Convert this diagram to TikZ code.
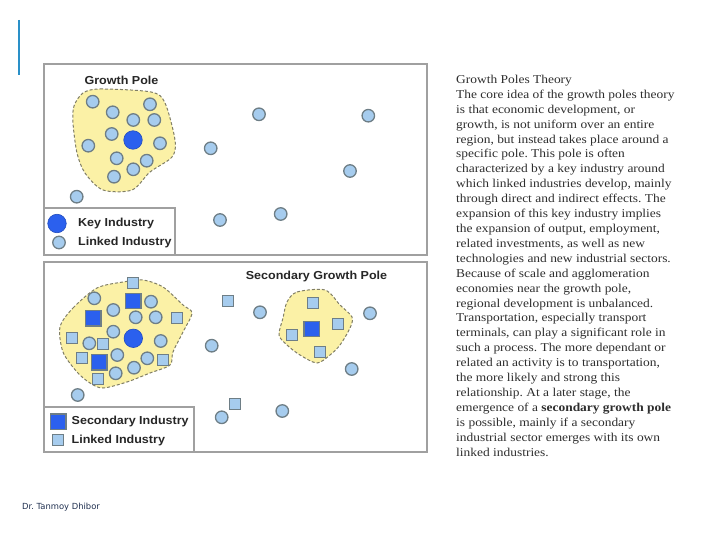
\documentclass[tikz,border=0pt]{standalone}
\usepackage{fontspec}
\setmainfont{Liberation Serif}
\newfontfamily\bodyfont[FakeStretch=1.12]{Liberation Serif}
\newfontfamily\labfont[FakeStretch=1.08]{Liberation Sans}
\newfontfamily\footfont{DejaVu Sans}
\frenchspacing
\definecolor{poleyellow}{HTML}{FBF1A6}
\definecolor{poledash}{HTML}{807E66}
\definecolor{lightblu}{HTML}{A6CCEE}
\definecolor{ringgray}{HTML}{6E7E86}
\definecolor{keyblue}{HTML}{2B60EE}
\definecolor{framegray}{HTML}{A0A0A0}
\definecolor{txtgray}{HTML}{2E2E2E}
\definecolor{accent}{HTML}{2A90C8}
\definecolor{footblue}{HTML}{1F2F4F}
\tikzset{
  link/.style={circle,minimum size=12.5pt,inner sep=0pt,fill=lightblu,draw=ringgray,line width=1.3pt},
  keyind/.style={circle,minimum size=18.5pt,inner sep=0pt,fill=keyblue,draw=keyblue!80!black,line width=0.6pt},
  sqlink/.style={rectangle,minimum size=11pt,inner sep=0pt,fill=lightblu,draw=ringgray,line width=1.2pt},
  sqkey/.style={rectangle,minimum size=15.5pt,inner sep=0pt,fill=keyblue,draw=ringgray,line width=1.2pt},
  pole/.style={fill=poleyellow,draw=poledash,dashed,line width=1pt,dash pattern=on 3pt off 2pt},
  panel/.style={draw=framegray,line width=1.5pt},
  lab/.style={font=\labfont\bfseries\fontsize{11.6}{13}\selectfont,text=black!85,inner sep=0pt},
  bodytxt/.style={font=\bodyfont\fontsize{12}{14}\selectfont,text=txtgray,inner sep=0pt,anchor=base west}
}
\begin{document}
\begin{tikzpicture}[x=1pt,y=-1pt]
\useasboundingbox (0,0) rectangle (720,540);
% accent line
\draw[accent,line width=1.5pt] (19,20) -- (19,75);
% ===== top panel =====
\draw[panel] (44,64) rectangle (427,255);
\draw[pole] plot[smooth cycle,tension=0.5] coordinates {(83,93) (100,89) (151,92) (165,103) (175,140) (172,157) (150,172) (132,190) (103,190) (85,173) (77,153) (73,123) (74,106)};
\node[lab] (gp) at (121.5,80) {Growth Pole};
\node[keyind] (k1) at (133,140) {};
\foreach \px/\py [count=\i] in {92.7/101.7,150/104.3,112.7/112.3,133.3/120,154.3/120,111.7/134,88.3/145.7,160/143.3,116.7/158.3,146.7/160.7,133.3/169.3,114/176.7,259/114.3,368.3/115.7,210.7/148.3,350/171,76.7/196.7,220/220,280.7/214}
  \node[link] (a\i) at (\px,\py) {};
% legend top
\draw[panel] (44,208) rectangle (175,255);
\node[keyind] (lk) at (57,223.5) {};
\node[link] (ll) at (59,242.5) {};
\node[lab,anchor=west] (lkt) at (78,223.5) {Key Industry};
\node[lab,anchor=west] (llt) at (78,242.5) {Linked Industry};
% ===== bottom panel =====
\draw[panel] (44,262) rectangle (427,452);
\draw[pole] plot[smooth cycle,tension=0.5] coordinates {(60,327) (73,308) (97,288) (123,282) (143,280) (163,287) (183,305) (192,313) (183,332) (173,352) (170,365) (150,373) (127,382) (103,388) (90,383) (77,372) (63,352)};
\draw[pole] plot[smooth cycle,tension=0.5] coordinates {(287,302) (297,292) (325,290) (340,305) (352,317) (350,328) (340,345) (330,355) (317,363) (300,355) (287,345) (279,335) (283,318)};
\node[lab] (sgp) at (316.5,276.5) {Secondary Growth Pole};
\node[keyind] (k2) at (133.3,338.3) {};
\foreach \px/\py [count=\i] in {133.3/301,93.3/318.3,99.3/362.3,311.7/329}
  \node[sqkey] (s\i) at (\px,\py) {};
\foreach \px/\py [count=\i] in {133.3/283.3,176.7/318.3,71.7/338.3,103.3/344.3,81.7/357.7,163.3/360,98.3/379,228.3/301,313.3/303.3,338.3/324.3,292.3/335,320/351.7,235/404}
  \node[sqlink] (q\i) at (\px,\py) {};
\foreach \px/\py [count=\i] in {94.3/298.3,151/301.7,113.3/310,135.7/317.3,155.7/317.3,113.3/331.7,89.3/343.3,160.7/341,117.3/355,147.3/358.3,134/367.7,115.7/373.3,77.7/395,260/312.3,211.7/345.7,370/313.3,351.7/369,221.7/417.3,282.3/411}
  \node[link] (b\i) at (\px,\py) {};
% legend bottom
\draw[panel] (44,407) rectangle (194,452);
\node[sqkey] (ls) at (58.3,421.7) {};
\node[sqlink] (lq) at (58.3,440) {};
\node[lab,anchor=west] (lst) at (71.5,421.7) {Secondary Industry};
\node[lab,anchor=west] (lqt) at (71.5,440) {Linked Industry};
% ===== right text =====
\foreach \ln [count=\i] in {
{Growth Poles Theory},
{The core idea of the growth poles theory},
{is that economic development, or},
{growth, is not uniform over an entire},
{region, but instead takes place around a},
{specific pole. This pole is often},
{characterized by a key industry around},
{which linked industries develop, mainly},
{through direct and indirect effects. The},
{expansion of this key industry implies},
{the expansion of output, employment,},
{related investments, as well as new},
{technologies and new industrial sectors.},
{Because of scale and agglomeration},
{economies near the growth pole,},
{regional development is unbalanced.},
{Transportation, especially transport},
{terminals, can play a significant role in},
{such a process. The more dependant or},
{related an activity is to transportation,},
{the more likely and strong this},
{relationship. At a later stage, the},
{emergence of a \textbf{secondary growth pole}},
{is possible, mainly if a secondary},
{industrial sector emerges with its own},
{linked industries.}}
  \node[bodytxt] (t\i) at (456,{83.5+14.9*(\i-1)}) {\ln};
% footer
\node[font=\footfont\fontsize{8.4}{10}\selectfont,text=footblue,anchor=west,inner sep=0pt] (ft) at (22,507) {Dr. Tanmoy Dhibor};
\end{tikzpicture}
\end{document}
